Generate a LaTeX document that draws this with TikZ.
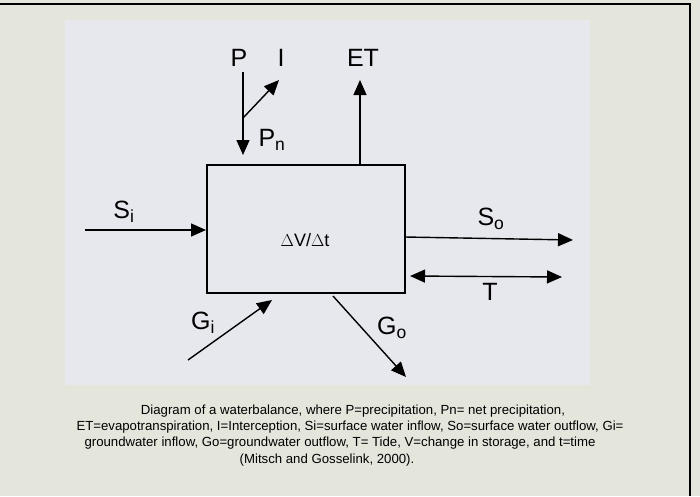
\documentclass[tikz,border=0pt]{standalone}
\usepackage{fontspec}
\setmainfont{Liberation Sans}
\usetikzlibrary{arrows.meta}
\begin{document}
\begin{tikzpicture}[x=1pt,y=-1pt,
  flow/.style={line width=1.4pt,-{Triangle[length=15pt,width=13pt]}},
  lbl/.style={font=\fontsize{25}{27}\selectfont},
  captxt/.style={font=\fontsize{13.2}{15}\selectfont,align=center}]
\fill[fill={rgb,255:red,228;green,230;blue,220}] (0,0) rectangle (700,496);
\useasboundingbox (0,0) rectangle (700,496);
\fill[fill={rgb,255:red,231;green,231;blue,238}] (65,20) rectangle (590,385);
\draw[line width=2.5pt] (0,4) -- (690,4) -- (690,496);
\node[draw,line width=1.4pt,minimum width=198pt,minimum height=128pt,inner sep=0pt] (box) at (306,229) {};
\node[font=\fontsize{18}{20}\selectfont] (dv) at (305,240) {$\Delta$V/$\Delta$t};
\coordinate (ptop) at (243,72);
\coordinate (pbot) at (243,155);
\coordinate (pbr) at (243,118);
\coordinate (itip) at (279,80);
\draw[flow] (ptop) -- (pbot);
\draw[flow] (pbr) -- (itip);
\node[lbl] (P) at (239,58) {P};
\node[lbl] (I) at (281,58) {I};
\node[lbl] (Pn) at (272,140) {P\textsubscript{n}};
\coordinate (etb) at (360,165);
\coordinate (ett) at (360,80);
\draw[flow] (etb) -- (ett);
\node[lbl] (ET) at (363,58) {ET};
\coordinate (sis) at (85,230);
\coordinate (sie) at (206,230);
\draw[flow] (sis) -- (sie);
\node[lbl] (Si) at (124,212) {S\textsubscript{i}};
\coordinate (sos) at (405,237);
\coordinate (soe) at (573,240);
\draw[flow] (sos) -- (soe);
\node[lbl] (So) at (491,219) {S\textsubscript{o}};
\coordinate (ts) at (410,276);
\coordinate (te) at (562,277);
\draw[flow,{Triangle[length=15pt,width=13pt]}-{Triangle[length=15pt,width=13pt]}] (ts) -- (te);
\node[lbl] (T) at (490,292) {T};
\coordinate (gis) at (188,360);
\coordinate (gie) at (272,300);
\draw[flow] (gis) -- (gie);
\node[lbl] (Gi) at (203,323) {G\textsubscript{i}};
\coordinate (gos) at (333,296);
\coordinate (goe) at (406,377);
\draw[flow] (gos) -- (goe);
\node[lbl] (Go) at (392,328) {G\textsubscript{o}};
\node[captxt] (c1) at (353,411) {Diagram of a waterbalance, where P=precipitation, Pn= net precipitation,};
\node[captxt] (c2) at (350,427) {ET=evapotranspiration, I=Interception, Si=surface water inflow, So=surface water outflow, Gi=};
\node[captxt] (c3) at (340,443) {groundwater inflow, Go=groundwater outflow, T= Tide, V=change in storage, and t=time};
\node[captxt] (c4) at (327,460) {(Mitsch and Gosselink, 2000).};
\end{tikzpicture}
\end{document}
